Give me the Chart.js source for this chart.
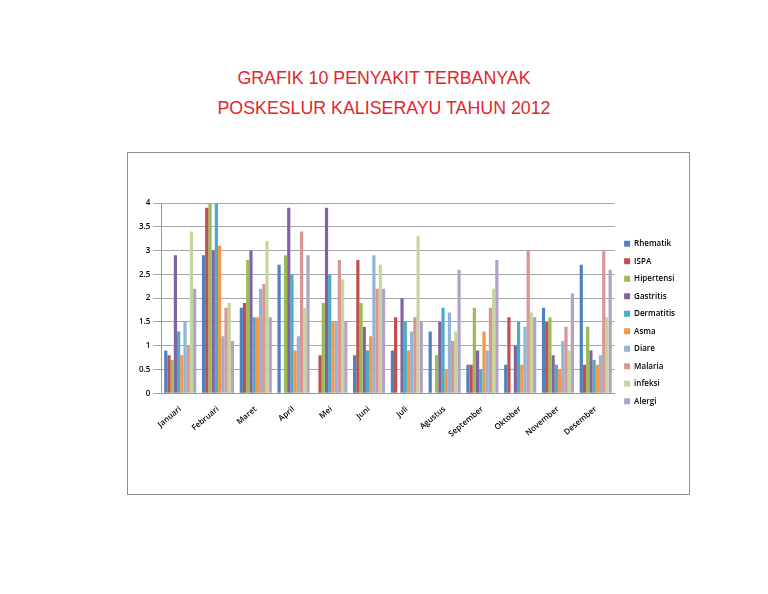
<!DOCTYPE html>
<html lang="id">
<head>
    <meta charset="UTF-8">
    <title>Grafik 10 Penyakit Terbanyak</title>
    <script src="https://cdn.jsdelivr.net/npm/chart.js@4.4.0/dist/chart.umd.min.js"></script>
    <style>
        * { box-sizing: border-box; }
        body { margin: 0; background: #fff; width: 768px; height: 594px; position: relative; font-family: "Liberation Sans", Arial, sans-serif; }
        .title { position: absolute; left: 0; width: 768px; text-align: center; color: #e3262b; font-size: 17.8px; }
        .t1 { top: 68px; }
        .t2 { top: 98px; }
        .chart-box { position: absolute; left: 127px; top: 152px; width: 563px; height: 343px; border: 1px solid #8e8e8e; }
    </style>
</head>
<body>
    <div class="title t1">GRAFIK 10 PENYAKIT TERBANYAK</div>
    <div class="title t2">POSKESLUR KALISERAYU TAHUN 2012</div>
    <div class="chart-box"><canvas id="penyakitChart" width="561" height="341"></canvas></div>

    <script>
        const months = ["Januari", "Februari", "Maret", "April", "Mei", "Juni", "Juli", "Agustus", "September", "Oktober", "November", "Desember"];
        const yTicks = [0, 0.5, 1, 1.5, 2, 2.5, 3, 3.5, 4];

        const rhematik   = [0.9, 2.9, 1.8, 2.7, 0, 0.8, 0.9, 1.3, 0.6, 0.6, 1.8, 2.7];
        const ispa       = [0.8, 3.9, 1.9, 0, 0.8, 2.8, 1.6, 0, 0.6, 1.6, 1.5, 0.6];
        const hipertensi = [0.7, 4, 2.8, 2.9, 1.9, 1.9, 0, 0.8, 1.8, 0, 1.6, 1.4];
        const gastritis  = [2.9, 3, 3, 3.9, 3.9, 1.4, 2, 1.5, 0.9, 1, 0.8, 0.9];
        const dermatitis = [1.3, 4, 1.6, 2.5, 2.5, 0.9, 1.5, 1.8, 0.5, 1.5, 0.6, 0.7];
        const asma       = [0.8, 3.1, 1.6, 0.9, 1.5, 1.2, 0.9, 0.5, 1.3, 0.6, 0.5, 0.6];
        const diare      = [1.5, 1.2, 2.2, 1.2, 1.5, 2.9, 1.3, 1.7, 0.9, 1.4, 1.1, 0.8];
        const malaria    = [1, 1.8, 2.3, 3.4, 2.8, 2.2, 1.6, 1.1, 1.8, 3, 1.4, 3];
        const infeksi    = [3.4, 1.9, 3.2, 1.8, 2.4, 2.7, 3.3, 1.3, 2.2, 1.7, 0.9, 1.6];
        const alergi     = [2.2, 1.1, 1.6, 2.9, 1.5, 2.2, 1.5, 2.6, 2.8, 1.6, 2.1, 2.6];

        const seriesNames  = ["Rhematik", "ISPA", "Hipertensi", "Gastritis", "Dermatitis", "Asma", "Diare", "Malaria", "infeksi", "Alergi"];
        const seriesValues = [rhematik, ispa, hipertensi, gastritis, dermatitis, asma, diare, malaria, infeksi, alergi];
        const seriesColors = ["#4f81bd", "#c0504d", "#9bbb59", "#8064a2", "#4bacc6", "#f79646", "#95b3d7", "#d99694", "#c3d69b", "#b3a2c7"];

        const ctx = document.getElementById("penyakitChart").getContext("2d");
        new Chart(ctx, {
            type: "bar",
            data: {
                labels: months,
                datasets: seriesNames.map((name, i) => ({
                    label: name,
                    data: seriesValues[i],
                    backgroundColor: seriesColors[i],
                    borderColor: seriesColors[i],
                    borderWidth: 0
                }))
            },
            options: {
                responsive: false,
                animation: false,
                layout: { padding: { left: 8, right: 4, top: 50, bottom: 52 } },
                datasets: { bar: { categoryPercentage: 0.85, barPercentage: 1 } },
                plugins: {
                    legend: {
                        position: "right",
                        align: "center",
                        labels: {
                            boxWidth: 6,
                            boxHeight: 6,
                            padding: 9.5,
                            color: "#000",
                            font: { family: "'Open Sans', sans-serif", size: 8, weight: "600" }
                        }
                    },
                    tooltip: { enabled: false }
                },
                scales: {
                    x: {
                        grid: { display: false },
                        border: { color: "#999" },
                        ticks: {
                            color: "#000",
                            maxRotation: 40,
                            minRotation: 40,
                            font: { family: "'Open Sans', sans-serif", size: 8, weight: "600" }
                        }
                    },
                    y: {
                        min: 0,
                        max: 4,
                        afterBuildTicks: axis => { axis.ticks = yTicks.map(v => ({ value: v })); },
                        grid: { color: "#a6a6a6" },
                        border: { color: "#999" },
                        ticks: {
                            color: "#000",
                            callback: v => String(v),
                            font: { family: "'Open Sans', sans-serif", size: 8, weight: "600" }
                        }
                    }
                }
            }
        });
    </script>
</body>
</html>
